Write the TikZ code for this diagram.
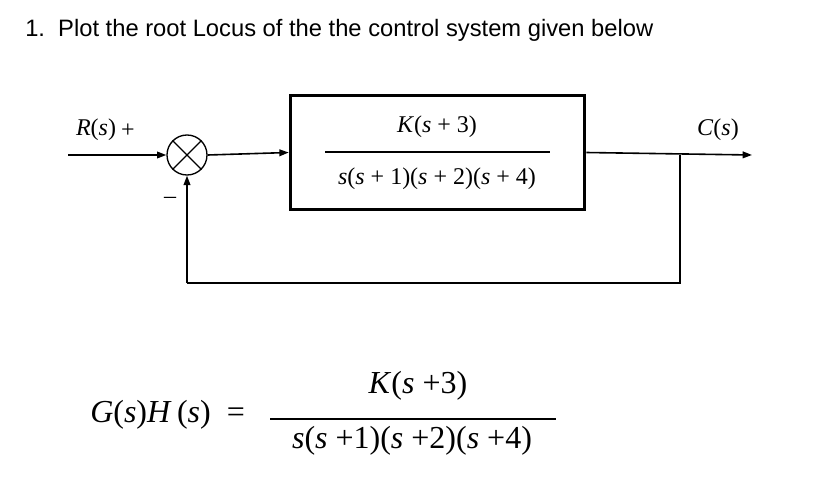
\documentclass[tikz,border=0pt]{standalone}
\usepackage{fontspec}
\setmainfont{Liberation Serif}
\setsansfont{Liberation Sans}
\usetikzlibrary{arrows.meta}
\newcommand{\iv}[1]{\textit{#1}}
\begin{document}
\begin{tikzpicture}[x=0.75pt,y=-0.75pt,
  sig/.style={line width=1.2pt,-{Triangle[length=7pt,width=5pt]}},
  wire/.style={line width=1.2pt},
  lbl/.style={inner sep=0pt,font=\fontsize{18}{20}\selectfont},
  big/.style={inner sep=0pt,font=\fontsize{24}{26}\selectfont}]
\useasboundingbox (0,0) rectangle (816,496);
\node[anchor=west,inner sep=0pt,font=\sffamily\fontsize{17.8}{20}\selectfont] (title) at (25,30) {1.\ \ Plot the root Locus of the the control system given below};
\node[lbl] (R) at (96,130) {\iv{R}(\iv{s})};
\node[lbl] (plus) at (128,131) {+};
\node[lbl] (minus) at (170,200) {--};
\node[draw,circle,line width=1pt,minimum size=30pt,inner sep=0pt] (sum) at (187,155) {};
\draw[line width=1pt] (sum.north west) -- (sum.south east) (sum.north east) -- (sum.south west);
\coordinate (in) at (68,155);
\draw[sig] (in) -- (sum.west);
\node[draw,line width=2.2pt,minimum width=221pt,minimum height=86pt,inner sep=0pt] (G) at (437.5,152.5) {};
\node[lbl] (num) at (437,127) {\iv{K}(\iv{s} + 3)};
\node[lbl] (den) at (437,179) {\iv{s}(\iv{s} + 1)(\iv{s} + 2)(\iv{s} + 4)};
\draw[line width=0.8pt] (325,152) -- (550,152);
\draw[sig] (sum.east) -- (G.west);
\coordinate (out) at (752,155);
\coordinate (tap) at (680,155);
\draw[sig] (G.east) -- (out);
\node[lbl] (C) at (718,130) {\iv{C}(\iv{s})};
\coordinate (b1) at (680,283);
\coordinate (b2) at (187,283);
\draw[wire] (tap) -- (b1) -- (b2);
\draw[sig] (b2) -- (sum.south);
\node[big,anchor=west] (gh) at (90,415) {\iv{G}(\iv{s})\iv{H}\,(\iv{s})\ \ =};
\node[big] (n2) at (418,386) {\iv{K}(\iv{s} +3)};
\node[big] (d2) at (412,441) {\iv{s}(\iv{s} +1)(\iv{s} +2)(\iv{s} +4)};
\draw[line width=0.8pt] (270,419) -- (556,419);
\end{tikzpicture}
\end{document}
